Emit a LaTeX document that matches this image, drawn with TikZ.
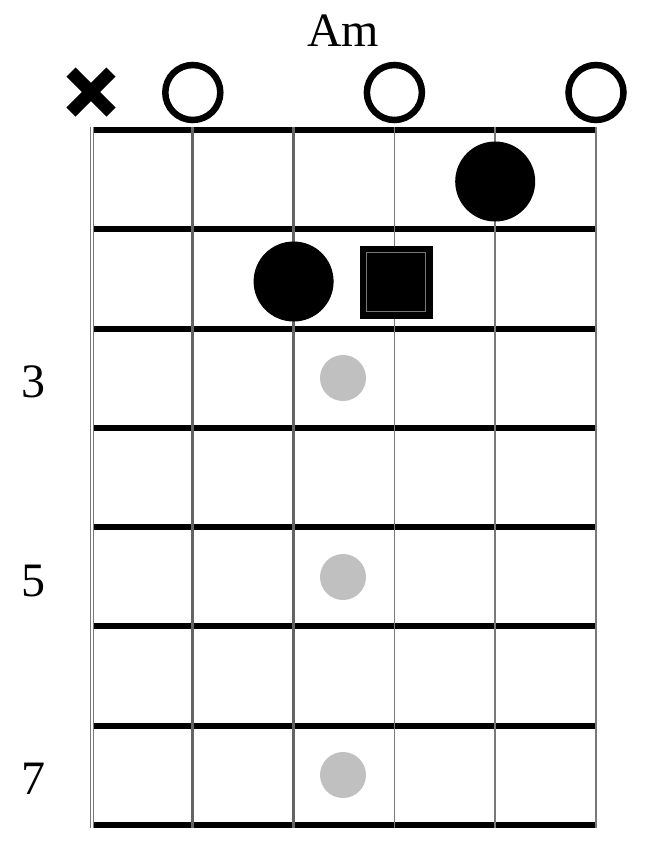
\documentclass[tikz,border=0pt]{standalone}
\usepackage{fontspec}
\setmainfont{Liberation Serif}
\usepackage{tikz}
\usetikzlibrary{positioning, shapes.misc}
\definecolor{stringgrey}{RGB}{100,100,100}
\definecolor{thingrey}{RGB}{120,120,120}
\definecolor{dotgrey}{RGB}{192,192,192}

\begin{document}
\begin{tikzpicture}[x=1pt, y=-1pt,
    fret/.style={line width=6pt},
    heavystring/.style={draw=stringgrey, line width=3.2pt},
    lightstring/.style={draw=thingrey, line width=1.6pt},
    mutedstring/.style={draw=thingrey, line width=1.1pt, double=white, double distance=2.4pt},
    openstring/.style={circle, draw, line width=6.5pt, minimum size=55pt, inner sep=0pt},
    mute/.style={cross out, draw, line width=13pt, minimum size=40pt, inner sep=0pt, outer sep=0pt},
    finger/.style={circle, fill=black, minimum size=80pt, inner sep=0pt},
    rootbox/.style={rectangle, fill=black, minimum size=73pt, inner sep=0pt},
    rootline/.style={rectangle, draw=thingrey, line width=0.8pt, minimum size=59pt, inner sep=0pt},
    inlay/.style={circle, fill=dotgrey, minimum size=46pt, inner sep=0pt},
    fretnum/.style={anchor=base, font=\fontsize{48}{48}\selectfont}]
    \useasboundingbox (0,0) rectangle (654,852);

    % chord name
    \node[fretnum] (chord) at (343,46) {Am};

    % frets
    \draw[fret] (90,130) -- (597,130);
    \draw[fret] (90,229.3) -- (597,229.3);
    \draw[fret] (90,328.6) -- (597,328.6);
    \draw[fret] (90,427.9) -- (597,427.9);
    \draw[fret] (90,527.1) -- (597,527.1);
    \draw[fret] (90,626.4) -- (597,626.4);
    \draw[fret] (90,725.7) -- (597,725.7);
    \draw[fret] (90,825) -- (597,825);

    % strings
    \draw[mutedstring] (92,127) -- (92,828);
    \draw[heavystring] (192.8,127) -- (192.8,828);
    \draw[heavystring] (293.6,127) -- (293.6,828);
    \draw[lightstring] (394.4,127) -- (394.4,828);
    \draw[lightstring] (495.2,127) -- (495.2,828);
    \draw[lightstring] (596,127) -- (596,828);

    % open and muted strings
    \node[mute] (x1) at (91,92) {};
    \node[openstring] (o2) at (192.8,92.5) {};
    \node[openstring] (o4) at (394.4,92.5) {};
    \node[openstring] (o6) at (596,92.5) {};

    % fingers
    \node[finger] (f5) at (495.2,181.5) {};
    \node[finger] (f3) at (293.6,281.5) {};
    \node[rootbox] (r4) at (396,282) {};
    \node[rootline] (r4in) at (r4) {};

    % inlays
    \node[inlay] (i3) at (343,378) {};
    \node[inlay] (i5) at (343,577) {};
    \node[inlay] (i7) at (343,775) {};

    % fret numbers
    \node[fretnum] (n3) at (33,397) {3};
    \node[fretnum] (n5) at (33,596) {5};
    \node[fretnum] (n7) at (33,794) {7};
\end{tikzpicture}
\end{document}
